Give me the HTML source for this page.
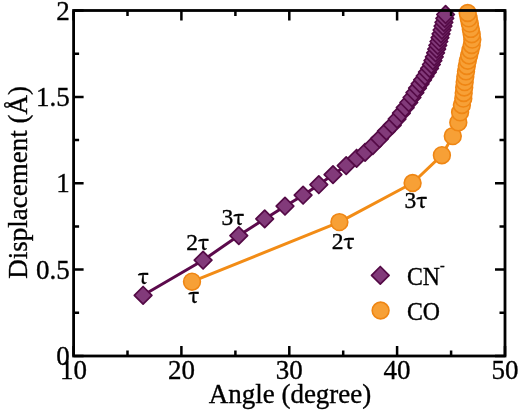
<!DOCTYPE html><html><head><meta charset="utf-8"><style>html,body{margin:0;padding:0;background:#fff;}svg{display:block;}text{font-family:"Liberation Serif","Times New Roman",serif;fill:#000;stroke:#000;stroke-width:0.35px;}.g{font-family:"Noto Serif CJK SC","Liberation Serif",serif;}.t{font-weight:600;}</style></head><body>
<svg width="520" height="411" viewBox="0 0 520 411">
<rect width="520" height="411" fill="#fff"/>
<polyline points="143.1,295.3 203.1,260.2 238.8,235.6 264.7,218.9 285.0,206.2 303.1,195.2 318.8,184.7 333.0,174.6 346.2,165.6 356.6,158.3 365.1,152.3 372.8,145.5 379.6,138.7 386.4,131.1 392.3,125.1 397.1,119.0 401.4,113.2 405.2,107.7 408.8,102.5 412.0,97.5 414.9,92.7 417.5,88.2 420.1,83.9 422.6,79.8 425.1,76.0 427.4,72.2 429.6,68.3 431.4,64.5 432.9,60.6 434.3,56.8 435.6,52.9 436.7,49.1 437.8,45.3 438.9,41.5 440.0,37.6 441.0,33.8 442.0,30.0 443.0,26.1 443.9,22.3 444.8,18.4 445.6,14.5" fill="none" stroke="#5c0a4c" stroke-width="3.0" stroke-linejoin="round"/>
<polyline points="192.0,281.7 339.4,222.1 412.6,183.0 441.9,155.2 452.8,136.1 458.3,122.4 460.1,112.3 461.9,105.0 463.3,98.6 463.7,93.0 464.2,87.5 464.7,82.1 465.3,76.7 466.0,71.4 466.8,66.0 467.8,60.7 469.1,55.5 470.4,50.2 471.7,45.0 472.3,39.6 471.7,34.2 470.8,28.9 469.8,23.6 468.7,18.3 467.7,13.0" fill="none" stroke="#f28c16" stroke-width="3.0" stroke-linejoin="round"/>
<path d="M143.1 286.5L151.9 295.3L143.1 304.1L134.3 295.3Z" fill="#823a7a" stroke="#540a46" stroke-width="1.7" stroke-linejoin="round"/>
<path d="M203.1 251.4L211.9 260.2L203.1 269.0L194.3 260.2Z" fill="#823a7a" stroke="#540a46" stroke-width="1.7" stroke-linejoin="round"/>
<path d="M238.8 226.8L247.6 235.6L238.8 244.4L230.0 235.6Z" fill="#823a7a" stroke="#540a46" stroke-width="1.7" stroke-linejoin="round"/>
<path d="M264.7 210.1L273.5 218.9L264.7 227.7L255.9 218.9Z" fill="#823a7a" stroke="#540a46" stroke-width="1.7" stroke-linejoin="round"/>
<path d="M285.0 197.4L293.8 206.2L285.0 215.0L276.2 206.2Z" fill="#823a7a" stroke="#540a46" stroke-width="1.7" stroke-linejoin="round"/>
<path d="M303.1 186.4L311.9 195.2L303.1 204.0L294.3 195.2Z" fill="#823a7a" stroke="#540a46" stroke-width="1.7" stroke-linejoin="round"/>
<path d="M318.8 175.9L327.6 184.7L318.8 193.5L310.0 184.7Z" fill="#823a7a" stroke="#540a46" stroke-width="1.7" stroke-linejoin="round"/>
<path d="M333.0 165.8L341.8 174.6L333.0 183.4L324.2 174.6Z" fill="#823a7a" stroke="#540a46" stroke-width="1.7" stroke-linejoin="round"/>
<path d="M346.2 156.8L355.0 165.6L346.2 174.4L337.4 165.6Z" fill="#823a7a" stroke="#540a46" stroke-width="1.7" stroke-linejoin="round"/>
<path d="M356.6 149.5L365.4 158.3L356.6 167.1L347.8 158.3Z" fill="#823a7a" stroke="#540a46" stroke-width="1.7" stroke-linejoin="round"/>
<path d="M365.1 143.5L373.9 152.3L365.1 161.1L356.3 152.3Z" fill="#823a7a" stroke="#540a46" stroke-width="1.7" stroke-linejoin="round"/>
<path d="M372.8 136.7L381.6 145.5L372.8 154.3L364.0 145.5Z" fill="#823a7a" stroke="#540a46" stroke-width="1.7" stroke-linejoin="round"/>
<path d="M379.6 129.9L388.4 138.7L379.6 147.5L370.8 138.7Z" fill="#823a7a" stroke="#540a46" stroke-width="1.7" stroke-linejoin="round"/>
<path d="M386.4 122.3L395.2 131.1L386.4 139.9L377.6 131.1Z" fill="#823a7a" stroke="#540a46" stroke-width="1.7" stroke-linejoin="round"/>
<path d="M392.3 116.3L401.1 125.1L392.3 133.9L383.5 125.1Z" fill="#823a7a" stroke="#540a46" stroke-width="1.7" stroke-linejoin="round"/>
<path d="M397.1 110.2L405.9 119.0L397.1 127.8L388.3 119.0Z" fill="#823a7a" stroke="#540a46" stroke-width="1.7" stroke-linejoin="round"/>
<path d="M401.4 104.4L410.2 113.2L401.4 122.0L392.6 113.2Z" fill="#823a7a" stroke="#540a46" stroke-width="1.7" stroke-linejoin="round"/>
<path d="M405.2 98.9L414.0 107.7L405.2 116.5L396.4 107.7Z" fill="#823a7a" stroke="#540a46" stroke-width="1.7" stroke-linejoin="round"/>
<path d="M408.8 93.7L417.6 102.5L408.8 111.3L400.0 102.5Z" fill="#823a7a" stroke="#540a46" stroke-width="1.7" stroke-linejoin="round"/>
<path d="M412.0 88.7L420.8 97.5L412.0 106.3L403.2 97.5Z" fill="#823a7a" stroke="#540a46" stroke-width="1.7" stroke-linejoin="round"/>
<path d="M414.9 83.9L423.7 92.7L414.9 101.5L406.1 92.7Z" fill="#823a7a" stroke="#540a46" stroke-width="1.7" stroke-linejoin="round"/>
<path d="M417.5 79.4L426.3 88.2L417.5 97.0L408.7 88.2Z" fill="#823a7a" stroke="#540a46" stroke-width="1.7" stroke-linejoin="round"/>
<path d="M420.1 75.1L428.9 83.9L420.1 92.7L411.3 83.9Z" fill="#823a7a" stroke="#540a46" stroke-width="1.7" stroke-linejoin="round"/>
<path d="M422.6 71.0L431.4 79.8L422.6 88.6L413.8 79.8Z" fill="#823a7a" stroke="#540a46" stroke-width="1.7" stroke-linejoin="round"/>
<path d="M425.1 67.2L433.9 76.0L425.1 84.8L416.3 76.0Z" fill="#823a7a" stroke="#540a46" stroke-width="1.7" stroke-linejoin="round"/>
<path d="M427.4 63.4L436.2 72.2L427.4 81.0L418.6 72.2Z" fill="#823a7a" stroke="#540a46" stroke-width="1.7" stroke-linejoin="round"/>
<path d="M429.6 59.5L438.4 68.3L429.6 77.1L420.8 68.3Z" fill="#823a7a" stroke="#540a46" stroke-width="1.7" stroke-linejoin="round"/>
<path d="M431.4 55.7L440.2 64.5L431.4 73.3L422.6 64.5Z" fill="#823a7a" stroke="#540a46" stroke-width="1.7" stroke-linejoin="round"/>
<path d="M432.9 51.8L441.7 60.6L432.9 69.4L424.1 60.6Z" fill="#823a7a" stroke="#540a46" stroke-width="1.7" stroke-linejoin="round"/>
<path d="M434.3 48.0L443.1 56.8L434.3 65.6L425.5 56.8Z" fill="#823a7a" stroke="#540a46" stroke-width="1.7" stroke-linejoin="round"/>
<path d="M435.6 44.1L444.4 52.9L435.6 61.7L426.8 52.9Z" fill="#823a7a" stroke="#540a46" stroke-width="1.7" stroke-linejoin="round"/>
<path d="M436.7 40.3L445.5 49.1L436.7 57.9L427.9 49.1Z" fill="#823a7a" stroke="#540a46" stroke-width="1.7" stroke-linejoin="round"/>
<path d="M437.8 36.5L446.6 45.3L437.8 54.1L429.0 45.3Z" fill="#823a7a" stroke="#540a46" stroke-width="1.7" stroke-linejoin="round"/>
<path d="M438.9 32.7L447.7 41.5L438.9 50.3L430.1 41.5Z" fill="#823a7a" stroke="#540a46" stroke-width="1.7" stroke-linejoin="round"/>
<path d="M440.0 28.8L448.8 37.6L440.0 46.4L431.2 37.6Z" fill="#823a7a" stroke="#540a46" stroke-width="1.7" stroke-linejoin="round"/>
<path d="M441.0 25.0L449.8 33.8L441.0 42.6L432.2 33.8Z" fill="#823a7a" stroke="#540a46" stroke-width="1.7" stroke-linejoin="round"/>
<path d="M442.0 21.2L450.8 30.0L442.0 38.8L433.2 30.0Z" fill="#823a7a" stroke="#540a46" stroke-width="1.7" stroke-linejoin="round"/>
<path d="M443.0 17.3L451.8 26.1L443.0 34.9L434.2 26.1Z" fill="#823a7a" stroke="#540a46" stroke-width="1.7" stroke-linejoin="round"/>
<path d="M443.9 13.5L452.7 22.3L443.9 31.1L435.1 22.3Z" fill="#823a7a" stroke="#540a46" stroke-width="1.7" stroke-linejoin="round"/>
<path d="M444.8 9.6L453.6 18.4L444.8 27.2L436.0 18.4Z" fill="#823a7a" stroke="#540a46" stroke-width="1.7" stroke-linejoin="round"/>
<path d="M445.6 5.7L454.4 14.5L445.6 23.3L436.8 14.5Z" fill="#823a7a" stroke="#540a46" stroke-width="1.7" stroke-linejoin="round"/>
<circle cx="192.0" cy="281.7" r="8.4" fill="#f7a036" stroke="#ef8614" stroke-width="1.6"/>
<circle cx="339.4" cy="222.1" r="8.4" fill="#f7a036" stroke="#ef8614" stroke-width="1.6"/>
<circle cx="412.6" cy="183.0" r="8.4" fill="#f7a036" stroke="#ef8614" stroke-width="1.6"/>
<circle cx="441.9" cy="155.2" r="8.4" fill="#f7a036" stroke="#ef8614" stroke-width="1.6"/>
<circle cx="452.8" cy="136.1" r="8.4" fill="#f7a036" stroke="#ef8614" stroke-width="1.6"/>
<circle cx="458.3" cy="122.4" r="8.4" fill="#f7a036" stroke="#ef8614" stroke-width="1.6"/>
<circle cx="460.1" cy="112.3" r="8.4" fill="#f7a036" stroke="#ef8614" stroke-width="1.6"/>
<circle cx="461.9" cy="105.0" r="8.4" fill="#f7a036" stroke="#ef8614" stroke-width="1.6"/>
<circle cx="463.3" cy="98.6" r="8.4" fill="#f7a036" stroke="#ef8614" stroke-width="1.6"/>
<circle cx="463.7" cy="93.0" r="8.4" fill="#f7a036" stroke="#ef8614" stroke-width="1.6"/>
<circle cx="464.2" cy="87.5" r="8.4" fill="#f7a036" stroke="#ef8614" stroke-width="1.6"/>
<circle cx="464.7" cy="82.1" r="8.4" fill="#f7a036" stroke="#ef8614" stroke-width="1.6"/>
<circle cx="465.3" cy="76.7" r="8.4" fill="#f7a036" stroke="#ef8614" stroke-width="1.6"/>
<circle cx="466.0" cy="71.4" r="8.4" fill="#f7a036" stroke="#ef8614" stroke-width="1.6"/>
<circle cx="466.8" cy="66.0" r="8.4" fill="#f7a036" stroke="#ef8614" stroke-width="1.6"/>
<circle cx="467.8" cy="60.7" r="8.4" fill="#f7a036" stroke="#ef8614" stroke-width="1.6"/>
<circle cx="469.1" cy="55.5" r="8.4" fill="#f7a036" stroke="#ef8614" stroke-width="1.6"/>
<circle cx="470.4" cy="50.2" r="8.4" fill="#f7a036" stroke="#ef8614" stroke-width="1.6"/>
<circle cx="471.7" cy="45.0" r="8.4" fill="#f7a036" stroke="#ef8614" stroke-width="1.6"/>
<circle cx="472.3" cy="39.6" r="8.4" fill="#f7a036" stroke="#ef8614" stroke-width="1.6"/>
<circle cx="471.7" cy="34.2" r="8.4" fill="#f7a036" stroke="#ef8614" stroke-width="1.6"/>
<circle cx="470.8" cy="28.9" r="8.4" fill="#f7a036" stroke="#ef8614" stroke-width="1.6"/>
<circle cx="469.8" cy="23.6" r="8.4" fill="#f7a036" stroke="#ef8614" stroke-width="1.6"/>
<circle cx="468.7" cy="18.3" r="8.4" fill="#f7a036" stroke="#ef8614" stroke-width="1.6"/>
<circle cx="467.7" cy="13.0" r="8.4" fill="#f7a036" stroke="#ef8614" stroke-width="1.6"/>
<path d="M73.6 356.0V346.0M73.6 10.5V20.5M181.4 356.0V346.0M181.4 10.5V20.5M289.3 356.0V346.0M289.3 10.5V20.5M397.1 356.0V346.0M397.1 10.5V20.5M505.0 356.0V346.0M505.0 10.5V20.5M127.5 356.0V350.5M127.5 10.5V16.0M235.4 356.0V350.5M235.4 10.5V16.0M343.2 356.0V350.5M343.2 10.5V16.0M451.1 356.0V350.5M451.1 10.5V16.0M73.6 356.0H83.6M505.0 356.0H495.0M73.6 269.6H83.6M505.0 269.6H495.0M73.6 183.2H83.6M505.0 183.2H495.0M73.6 96.9H83.6M505.0 96.9H495.0M73.6 10.5H83.6M505.0 10.5H495.0M73.6 312.8H79.1M505.0 312.8H499.5M73.6 226.4H79.1M505.0 226.4H499.5M73.6 140.1H79.1M505.0 140.1H499.5M73.6 53.7H79.1M505.0 53.7H499.5" stroke="#000" stroke-width="2.5" fill="none"/>
<rect x="73.6" y="10.5" width="431.4" height="345.5" fill="none" stroke="#000" stroke-width="2.8"/>
<text x="73.6" y="379.3" font-size="27" text-anchor="middle">10</text>
<text x="181.4" y="379.3" font-size="27" text-anchor="middle">20</text>
<text x="289.3" y="379.3" font-size="27" text-anchor="middle">30</text>
<text x="397.1" y="379.3" font-size="27" text-anchor="middle">40</text>
<text x="505.0" y="379.3" font-size="27" text-anchor="middle">50</text>
<text x="69.8" y="365.0" font-size="27" text-anchor="end">0</text>
<text x="69.8" y="278.6" font-size="27" text-anchor="end">0.5</text>
<text x="69.8" y="192.2" font-size="27" text-anchor="end">1</text>
<text x="69.8" y="105.9" font-size="27" text-anchor="end">1.5</text>
<text x="69.8" y="19.5" font-size="27" text-anchor="end">2</text>
<text x="290.0" y="403.2" font-size="27" text-anchor="middle">Angle (degree)</text>
<text transform="translate(27.0 182.4) rotate(-90)" font-size="27" text-anchor="middle">Displacement (Å)</text>
<text x="137.7" y="284.4"><tspan class="g t" font-size="21">τ</tspan></text>
<text x="186.3" y="250.0"><tspan font-size="23.5">2</tspan><tspan class="g t" font-size="21">τ</tspan></text>
<text x="221.4" y="225.4"><tspan font-size="23.5">3</tspan><tspan class="g t" font-size="21">τ</tspan></text>
<text x="188.2" y="302.8"><tspan class="g t" font-size="21">τ</tspan></text>
<text x="331.8" y="249.4"><tspan font-size="23.5">2</tspan><tspan class="g t" font-size="21">τ</tspan></text>
<text x="404.6" y="208.3"><tspan font-size="23.5">3</tspan><tspan class="g t" font-size="21">τ</tspan></text>
<path d="M380.3 266.5L389.1 275.3L380.3 284.1L371.5 275.3Z" fill="#823a7a" stroke="#540a46" stroke-width="1.7" stroke-linejoin="round"/>
<circle cx="380.6" cy="310.5" r="8.4" fill="#f7a036" stroke="#ef8614" stroke-width="1.6"/>
<text transform="translate(406.9 285.2) scale(1 1.07)" font-size="23.8">CN</text>
<text x="440" y="270" font-size="14">-</text>
<text transform="translate(406.9 319.5) scale(1 1.07)" font-size="23.8">CO</text>
</svg></body></html>
